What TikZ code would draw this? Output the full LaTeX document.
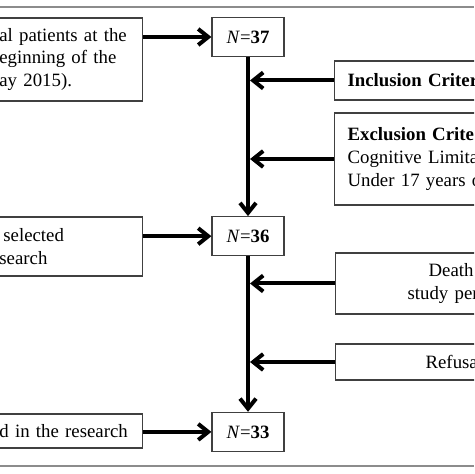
\documentclass[tikz,border=0pt]{standalone}
\usepackage{fontspec}
\setmainfont{Liberation Serif}
\usetikzlibrary{
  arrows.meta,
  positioning,
  calc
}
\newcommand{\flowfont}{\fontsize{9.4}{11.3}\selectfont}
\tikzset{
  % Count box in the middle column
  cnt/.style={
    rectangle, draw=black!75, line width=0.6pt, fill=white,
    minimum width=36pt, minimum height=19.5pt,
    inner sep=0pt, font=\flowfont
  },
  % Source box, left column (runs past the left edge)
  src/.style={
    rectangle, draw=black!75, line width=0.6pt, fill=white,
    anchor=east, text width=65.5pt, inner xsep=6pt, inner ysep=0pt,
    align=left, font=\flowfont
  },
  % Criteria box, right column (runs past the right edge)
  crit/.style={
    rectangle, draw=black!75, line width=0.6pt, fill=white,
    anchor=west, text width=140pt, inner xsep=6.5pt, inner ysep=0pt,
    align=left, font=\flowfont
  },
  % Arrow
  arr/.style={
    -{Straight Barb[length=5pt,width=8pt]},
    line width=2pt, color=black
  },
  % Grey rule at top and bottom
  hrule/.style={draw=black!45, line width=0.6pt}
}

\begin{document}
\begin{tikzpicture}[x=0.5pt, y=-0.5pt]
  \useasboundingbox (0,0) rectangle (474,474);
  \clip (0,0) rectangle (474,474);

  % Middle column: counts
  \node[cnt] (n37) at (248,37) {\textit{N}=\textbf{37}};
  \node[cnt, below=79.5pt of n37] (n36) {\textit{N}=\textbf{36}};
  \node[cnt, below=77.75pt of n36] (n33) {\textit{N}=\textbf{33}};

  % Left column
  \node[src, minimum height=41.5pt] (all) at (143,59.5) {al patients at the\\eginning of the\\ay 2015).};
  \node[src, minimum height=29.5pt] (sel) at (143,246.5) {\hspace*{2pt}selected\\search};
  \node[src, minimum height=17pt]   (inc) at (143,431) {d in the research};

  % Right column
  \node[crit, minimum height=19.5pt] (incl) at (334,80.5) {\textbf{Inclusion Criter}};
  \node[crit, minimum height=46pt]   (excl) at (334,159) {\textbf{Exclusion Crite}\\Cognitive Limita\\Under 17 years o};
  \node[crit, minimum height=30.5pt] (death) at (335,283.5) {\hspace*{40pt}Death\\\hspace*{29.5pt}study per};
  \node[crit, minimum height=18pt]   (refu) at (335,362) {\hspace*{38.5pt}Refusa};

  % Points on the main line
  \coordinate (j1) at (n37.south |- incl.west);
  \coordinate (j2) at (n37.south |- excl.west);
  \coordinate (j3) at (n36.south |- death.west);
  \coordinate (j4) at (n36.south |- refu.west);

  \draw[arr] (n37) -- (n36);
  \draw[arr] (n36) -- (n33);
  \draw[arr] (n37.west -| all.east) -- (n37.west);
  \draw[arr] (n36.west -| sel.east) -- (n36.west);
  \draw[arr] (n33.west -| inc.east) -- (n33.west);
  \draw[arr, shorten >=1pt] (incl.west) -- (j1);
  \draw[arr, shorten >=1pt] (excl.west) -- (j2);
  \draw[arr, shorten >=1pt] (death.west) -- (j3);
  \draw[arr, shorten >=1pt] (refu.west) -- (j4);

  \draw[hrule] (0,7) -- (474,7);
  \draw[hrule] (0,466) -- (474,466);
\end{tikzpicture}
\end{document}
